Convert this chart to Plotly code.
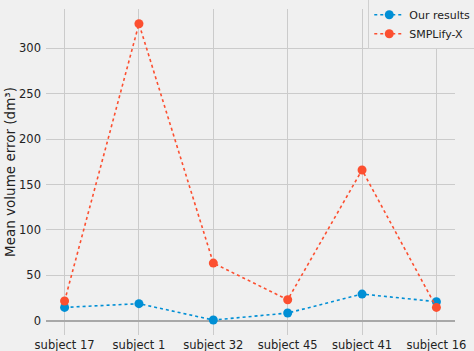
import plotly.graph_objects as go

subjects = ["subject 17", "subject 1", "subject 32", "subject 45", "subject 41", "subject 16"]
ours = [14.6, 18.7, 0.7, 8.4, 29.3, 20.9]
smplify = [21.6, 327, 63.4, 23.0, 166, 14.6]

x_idx = list(range(len(subjects)))

fig = go.Figure()
fig.add_trace(go.Scatter(x=x_idx, y=ours, name="Our results", mode="lines+markers",
                         line=dict(color="#008fd5", width=1.6, dash="dot"),
                         marker=dict(color="#008fd5", size=9)))
fig.add_trace(go.Scatter(x=x_idx, y=smplify, name="SMPLify-X", mode="lines+markers",
                         line=dict(color="#fc4f30", width=1.6, dash="dot"),
                         marker=dict(color="#fc4f30", size=9)))

fig.update_layout(
    width=474, height=351,
    margin=dict(l=46, r=18.5, t=8.6, b=15.6, autoexpand=False),
    paper_bgcolor="#f0f0f0", plot_bgcolor="#f0f0f0",
    font=dict(family="DejaVu Sans", size=11.5, color="#222222"),
    showlegend=True,
    legend=dict(x=1.052, xanchor="right", y=1.03, yanchor="top",
                bgcolor="#f0f0f0", bordercolor="#d0d0d0", borderwidth=1,
                font=dict(size=11), tracegroupgap=0, itemwidth=30),
)
fig.update_xaxes(range=[-0.25, 5.25], tickmode="array", tickvals=x_idx, ticktext=subjects,
                 showgrid=True, gridcolor="#cbcbcb", gridwidth=1, zeroline=False,
                 showline=False, ticks="", ticklabelstandoff=1, automargin=False)
fig.update_yaxes(range=[-15.8, 343.3], tickvals=[0, 50, 100, 150, 200, 250, 300],
                 showgrid=True, gridcolor="#cbcbcb", gridwidth=1,
                 zeroline=True, zerolinecolor="#a8a8a8", zerolinewidth=1.5,
                 showline=False, ticks="", ticklabelstandoff=4, automargin=False,
                 title=dict(text="Mean volume error (dm³)", font=dict(size=13.5), standoff=0))

fig.write_html("out.html")
